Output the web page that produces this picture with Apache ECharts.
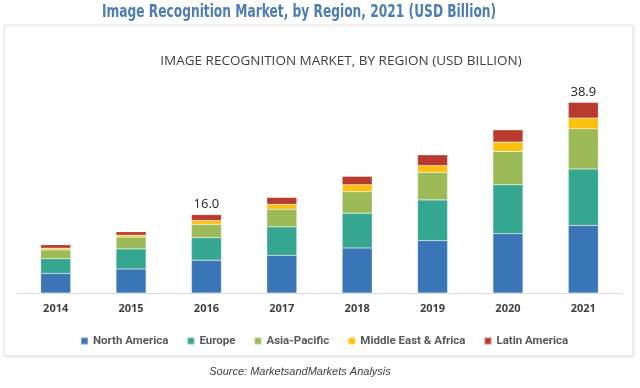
<!DOCTYPE html>
<html>
<head>
<meta charset="utf-8">
<script src="https://cdn.jsdelivr.net/npm/echarts@6/dist/echarts.min.js"></script>
<style>
html,body{margin:0;padding:0;background:#fff;}
#chart{width:640px;height:388px;}
</style>
</head>
<body>
<div id="chart"></div>
<script>
var years = ['2014','2015','2016','2017','2018','2019','2020','2021'];
var northAmerica = [4.0, 4.9, 6.7, 7.7, 9.2, 10.7, 12.1, 13.8];
var europe       = [3.0, 4.1, 4.6, 5.8, 7.1, 8.3, 10.0, 11.5];
var asiaPacific  = [1.8, 2.4, 2.7, 3.6, 4.4, 5.6, 6.8, 8.2];
var middleEast   = [0.35, 0.4, 0.8, 1.0, 1.4, 1.4, 1.9, 2.2];
var latinAmerica = [0.7, 0.7, 1.2, 1.4, 1.7, 2.2, 2.5, 3.2];
var totalLabels  = [null, null, '16.0', null, null, null, null, '38.9'];

var seriesNames = ['North America','Europe','Asia-Pacific','Middle East & Africa','Latin America'];
var seriesData = [northAmerica, europe, asiaPacific, middleEast, latinAmerica];
var colors = ['#3a75b7','#35a68f','#9cbb58','#fcc10e','#b93a2e'];

var chart = echarts.init(document.getElementById('chart'));
var series = seriesNames.map(function(name, i){
  var s = {
    name: name,
    type: 'bar',
    stack: 'total',
    barWidth: 30,
    data: seriesData[i],
    itemStyle: {color: colors[i], borderColor: 'rgba(255,255,255,0.35)', borderWidth: 0.5},
    emphasis: {disabled: true}
  };
  if (i === seriesNames.length - 1) {
    s.label = {
      show: true,
      position: 'top',
      distance: 4,
      color: '#262626',
      fontFamily: 'Open Sans',
      fontSize: 13,
      formatter: function(p){ return totalLabels[p.dataIndex] || ''; }
    };
  }
  return s;
});

chart.setOption({
  animation: false,
  color: colors,
  graphic: [
    {type: 'rect', shape: {x: 4, y: 25, width: 629, height: 331},
     style: {fill: '#fff', stroke: '#e3e3e3', lineWidth: 1,
             shadowColor: 'rgba(0,0,0,0.08)', shadowBlur: 3, shadowOffsetX: 1, shadowOffsetY: 1}, z: -10},
    {type: 'text', x: 299, y: 4, scaleX: 0.8,
     style: {text: 'Image Recognition Market, by Region, 2021 (USD Billion)', fill: '#4e7db4',
             textAlign: 'center',
             font: 'bold 17px "DejaVu Sans Condensed", "Liberation Sans", sans-serif'}},
    {type: 'text', x: 341, y: 54,
     style: {text: 'IMAGE RECOGNITION MARKET, BY REGION (USD BILLION)', fill: '#404040',
             textAlign: 'center',
             font: '13.5px "Open Sans", sans-serif'}},
    {type: 'text', x: 300, y: 366,
     style: {text: 'Source: MarketsandMarkets Analysis', fill: '#404040', textAlign: 'center',
             font: 'italic 11px "Liberation Sans", Arial, sans-serif'}}
  ],
  grid: {left: 18, right: 19, top: 97, bottom: 95, containLabel: false},
  legend: {
    data: seriesNames,
    left: 75, top: 330, width: 560,
    itemWidth: 7, itemHeight: 7, itemGap: 18,
    icon: 'rect',
    textStyle: {color: '#595959', fontWeight: 'bold', fontSize: 11.5, fontFamily: 'Roboto'}
  },
  xAxis: {
    type: 'category',
    data: years,
    axisLine: {lineStyle: {color: '#d9d9d9'}},
    axisTick: {show: false},
    axisLabel: {color: '#404040', fontWeight: 'bold', fontSize: 11, fontFamily: 'Open Sans', margin: 10}
  },
  yAxis: {
    type: 'value', min: 0, max: 40,
    show: false,
    splitLine: {show: false}
  },
  series: series
});
</script>
</body>
</html>
